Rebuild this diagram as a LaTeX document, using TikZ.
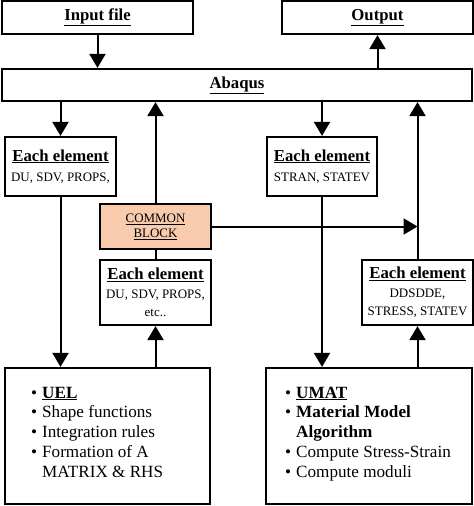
\documentclass[tikz,border=0pt]{standalone}
\usepackage{fontspec}
\setmainfont{Liberation Serif}
\usetikzlibrary{arrows.meta}
\definecolor{peach}{RGB}{248,203,173}
\newcommand{\hdrfont}{\fontsize{16.8}{19}\selectfont\bfseries}
\newcommand{\smfont}{\fontsize{13}{18.5}\selectfont}
\newcommand{\bulfont}{\fontsize{17.2}{20}\selectfont}
\begin{document}
\begin{tikzpicture}[x=1bp,y=-1bp,
  box/.style={draw=black,line width=2.2bp,fill=white,rectangle,inner sep=0pt,align=center,font=\smfont},
  arr/.style={line width=2bp,-{Triangle[length=14bp,width=16bp]}},
  ln/.style={line width=2bp}]
\useasboundingbox (0,0) rectangle (474,506);
\node[box,minimum width=191bp,minimum height=33bp] (input) at (97.5,17.5) {\hdrfont\underline{Input file}};
\node[box,minimum width=191bp,minimum height=33bp] (output) at (377.5,17.5) {\hdrfont\underline{Output}};
\node[box,minimum width=470bp,minimum height=32bp] (abaqus) at (237,85) {\hdrfont\underline{Abaqus}};
\node[box,minimum width=111bp,minimum height=59bp] (box1) at (60.5,166.5) {{\hdrfont\underline{Each element}}\\[2bp]DU, SDV, PROPS,};
\node[box,fill=peach,minimum width=111bp,minimum height=45bp,font=\fontsize{13}{15}\selectfont] (common) at (155.5,226.5) {\underline{COMMON}\\\underline{BLOCK}};
\node[box,minimum width=111bp,minimum height=65bp] (box2) at (155.5,292.5) {{\hdrfont\underline{Each element}}\\DU, SDV, PROPS,\\etc..};
\node[box,minimum width=110bp,minimum height=59bp] (box3) at (322,166.5) {{\hdrfont\underline{Each element}}\\[2bp]STRAN, STATEV};
\node[box,minimum width=111bp,minimum height=65bp] (box4) at (417.5,292.5) {{\hdrfont\underline{Each element}}\\DDSDDE,\\STRESS, STATEV};
\node[box,minimum width=205bp,minimum height=136bp] (uel) at (107.5,436) {};
\node[box,minimum width=206bp,minimum height=136bp] (umat) at (369,436) {};
\node[anchor=base west,inner sep=0pt,font=\bulfont] (ueltext) at (31,398) {%
\begin{tabular}[t]{@{}l@{\hspace{5bp}}l@{}}
\textbullet & \textbf{\underline{UEL}}\\
\textbullet & Shape functions\\
\textbullet & Integration rules\\
\textbullet & Formation of A\\
 & MATRIX \& RHS
\end{tabular}};
\node[anchor=base west,inner sep=0pt,font=\bulfont] (umattext) at (285,398) {%
\begin{tabular}[t]{@{}l@{\hspace{5bp}}l@{}}
\textbullet & \textbf{\underline{UMAT}}\\
\textbullet & \textbf{Material Model}\\
 & \textbf{Algorithm}\\
\textbullet & Compute Stress-Strain\\
\textbullet & Compute moduli
\end{tabular}};
% connectors
\draw[arr] (input.south) -- (input.south |- abaqus.north);
\draw[arr] (abaqus.north -| output.south) -- (output.south);
\draw[arr] (abaqus.south -| box1.north) -- (box1.north);
\draw[arr] (box1.south) -- (box1.south |- uel.north);
\draw[arr] (common.north) -- (common.north |- abaqus.south);
\draw[ln] (common.south) -- (box2.north);
\draw[arr] (uel.north -| box2.south) -- (box2.south);
\draw[arr] (abaqus.south -| box3.north) -- (box3.north);
\draw[arr] (box3.south) -- (box3.south |- umat.north);
\draw[arr] (common.east) -- (common.east -| box4.north);
\draw[arr] (box4.north) -- (box4.north |- abaqus.south);
\draw[arr] (umat.north -| box4.south) -- (box4.south);
\end{tikzpicture}
\end{document}
